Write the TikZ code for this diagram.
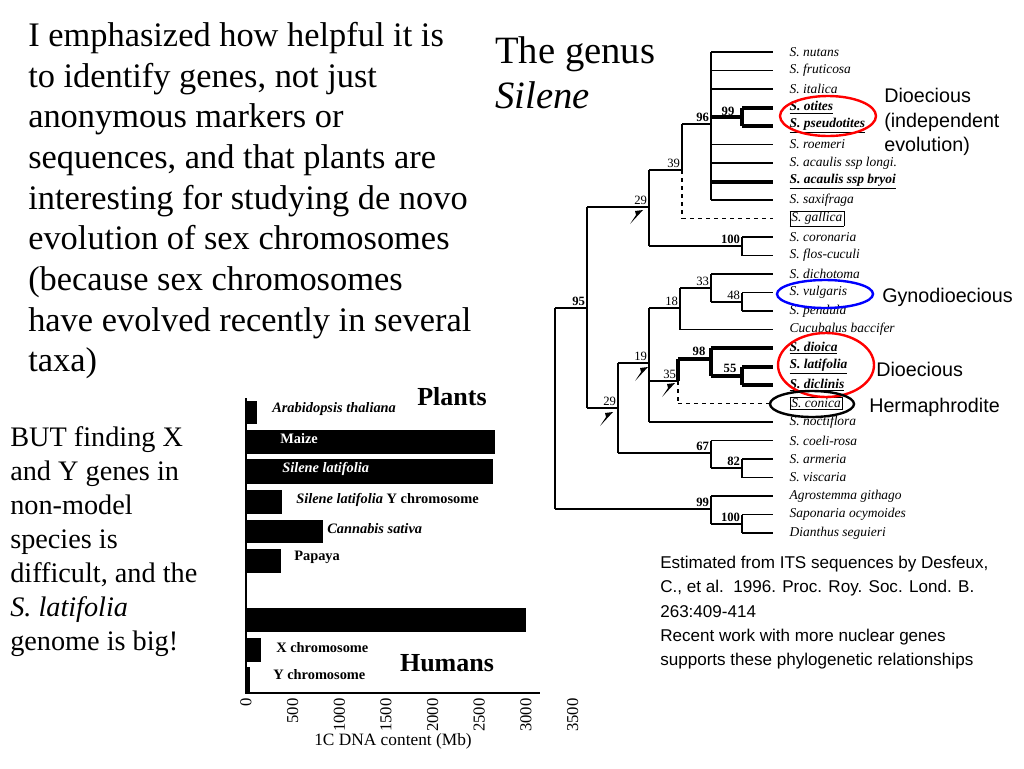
\documentclass[tikz,border=0pt]{standalone}
\usepackage{fontspec}
\setmainfont{Liberation Serif}
\setsansfont{Liberation Sans}
\usetikzlibrary{positioning}
\begin{document}
\begin{tikzpicture}[x=0.75pt,y=-0.75pt,
  slide/.style={anchor=north west, align=left, inner sep=0pt, font=\fontsize{25.8}{30.5}\selectfont},
  leaf/.style={anchor=west, inner sep=1pt, font=\fontsize{10.1}{9}\selectfont\itshape},
  boot/.style={above left, inner sep=1pt, font=\fontsize{9.5}{9}\selectfont},
  bootb/.style={boot, font=\fontsize{9.5}{9}\selectfont\bfseries},
  branch/.style={line width=1pt},
  heavy/.style={line width=3pt},
  dashbranch/.style={line width=1pt, dashed},
  note/.style={anchor=north west, align=left, inner sep=0pt, font=\sffamily\fontsize{14.8}{18.4}\selectfont},
  bar/.style={fill=black},
  barlab/.style={anchor=west, inner sep=0pt, font=\fontsize{10.8}{10}\selectfont\bfseries},
  pointer/.style={fill=black}
]
\useasboundingbox (0,0) rectangle (1024,768);

% left text
\node[slide] (intro) at (28,22) {I emphasized how helpful it is\\to identify genes, not just\\anonymous markers or\\sequences, and that plants are\\interesting for studying de novo\\evolution of sex chromosomes\\(because sex chromosomes\\have evolved recently in several\\taxa)};
\node[slide, font=\fontsize{21.2}{25.6}\selectfont] (but) at (10,426) {BUT finding X\\and Y genes in\\non-model\\species is\\difficult, and the\\\textit{S. latifolia}\\genome is big!};
\node[slide, font=\fontsize{29}{34}\selectfont] (title) at (495,36) {The genus\\\textit{Silene}};

% leaves
\foreach \name [count=\i from 0] in {S. nutans, S. fruticosa, S. italica, \textbf{\underline{S. otites}}, \textbf{\underline{S. pseudotites}}, S. roemeri, S. acaulis ssp longi., \textbf{\underline{S. acaulis ssp bryoi}}, S. saxifraga, \fbox{S. gallica}, S. coronaria, S. flos-cuculi, S. dichotoma, S. vulgaris, S. pendula, Cucubalus baccifer, \textbf{\underline{S. dioica}}, \textbf{\underline{S. latifolia}}, \textbf{\underline{S. diclinis}}, \fbox{S. conica}, S. noctiflora, S. coeli-rosa, S. armeria, S. viscaria, Agrostemma githago, Saponaria ocymoides, Dianthus seguieri}
  \node[leaf, font=\fontsize{10.1}{9}\selectfont\itshape\setlength{\fboxsep}{1pt}] (l\i) at (788,52+18.5*\i) {\name};

% leaf branches
\foreach \i/\x in {0/711,1/711,2/711,5/711,6/711,8/711,10/742,11/742,12/711,13/742,14/742,15/680,20/649,21/711,22/742,23/742,24/711,25/742,26/742}
  \draw[branch] (\x,52+18.5*\i) -- (773,52+18.5*\i);
\foreach \i/\x in {3/742,4/742,7/711,16/711,17/742,18/742}
  \draw[heavy] (\x,52+18.5*\i) -- (773,52+18.5*\i);
\foreach \i/\x in {9/682,19/678}
  \draw[dashbranch] (\x,52+18.5*\i) -- (773,52+18.5*\i);

% upper clades
\draw[branch] (711,52) -- (711,200);
\draw[heavy] (742,107.5) -- (742,126) (711,117) -- (742,117);
\draw[branch] (682,124) -- (711,124) node[bootb] {96};
\node[bootb] at (736,117) {99};
\draw[branch] (682,124) -- (682,170);
\draw[dashbranch] (682,170) -- (682,218.5);
\draw[branch] (649,170) -- (682,170) node[boot] {39};
\draw[branch] (742,237) -- (742,255.5) (649,246) -- (742,246) node[bootb] {100};
\draw[branch] (649,170) -- (649,246);
\draw[branch] (587,207) -- (649,207) node[boot] {29};
% middle clades
\draw[branch] (711,274) -- (711,302) (742,292.5) -- (742,311) (711,302) -- (742,302) node[boot] {48};
\draw[branch] (680,288) -- (711,288) node[boot] {33};
\draw[branch] (680,288) -- (680,330) (649,308) -- (680,308) node[boot] {18};
\draw[heavy] (711,348) -- (711,376) (742,366.5) -- (742,385) (711,376) -- (742,376);
\node[bootb] at (738,374) {55};
\draw[heavy] (678,359) -- (711,359) (678,359) -- (678,381);
\node[bootb] at (707,357) {98};
\draw[dashbranch] (678,381) -- (678,403.5);
\draw[branch] (649,381) -- (678,381) node[boot] {35};
\draw[branch] (649,308) -- (649,422) (618,363) -- (649,363) node[boot] {19};
\draw[branch] (711,440.5) -- (711,468) (742,459) -- (742,477.5) (711,468) -- (742,468) node[bootb] {82};
\draw[branch] (618,453) -- (711,453) node[bootb] {67};
\draw[branch] (618,363) -- (618,453) (587,408) -- (618,408) node[boot] {29};
\draw[branch] (587,207) -- (587,408) (555,308) -- (587,308) node[bootb] {95};
% outgroup
\draw[branch] (711,496) -- (711,524) (742,514.5) -- (742,533) (711,524) -- (742,524) node[bootb] {100};
\draw[branch] (555,509) -- (711,509) node[bootb] {99};
\draw[branch] (555,308) -- (555,509);

% pointers
\foreach \x/\y in {643/210,648/367,675/383,613/412}
  \fill[pointer] (\x,\y) -- ++(-13,14) -- ++(6,-9) -- ++(-1,-4) -- cycle;

% rings
\draw[red, line width=1.8pt] (828,116) ellipse (48 and 20);
\draw[blue, line width=1.8pt] (825,294) ellipse (48 and 14);
\draw[red, line width=1.8pt] (826,365) ellipse (48 and 32);
\draw[black, line width=1.8pt] (812,404) ellipse (42 and 13);
\node[note] (dio1) at (884,88) {Dioecious\\(independent\\evolution)};
\node[note] (gyno) at (882,288) {Gynodioecious};
\node[note] (dio2) at (876,362) {Dioecious};
\node[note] (herm) at (869,398) {Hermaphrodite};
\node[note, font=\sffamily\fontsize{12.8}{18.2}\selectfont] (cite) at (660,556) {Estimated from ITS sequences by Desfeux,\\C., et al.\ \ 1996. Proc. Roy. Soc. Lond. B.\\263:409-414\\Recent work with more nuclear genes\\supports these phylogenetic relationships};

% bar chart
\foreach \t/\b/\v in {401/424/120,430/454/2670,459/484/2650,490/514/385,520/543/830,549/573/375,608/632/3000,638/662/160,667/692/45}
  \fill[bar] (246,\t) rectangle (246+0.0933*\v,\b);
\draw[line width=0.8pt] (246,398) -- (246,693) -- (540,693);
\foreach \v in {0,500,...,3500}
  \node[rotate=90, anchor=east, inner sep=1pt, font=\fontsize{12.5}{10}\selectfont] at (246+0.0933*\v,697) {\v};
\node[font=\fontsize{13}{10}\selectfont] (xlab) at (393,741) {1C DNA content (Mb)};
\node[barlab] at (272,409) {\textit{Arabidopsis thaliana}};
\node[barlab, white] at (280,439) {Maize};
\node[barlab, white] at (282,469) {\textit{Silene latifolia}};
\node[barlab] at (296,500) {\textit{Silene latifolia} Y chromosome};
\node[barlab] at (327,529) {\textit{Cannabis sativa}};
\node[barlab] at (294,557) {Papaya};
\node[barlab] at (276,648) {X chromosome};
\node[barlab] at (273,675) {Y chromosome};
\node[font=\fontsize{19.5}{16}\selectfont\bfseries] (plants) at (452,397) {Plants};
\node[font=\fontsize{19.5}{16}\selectfont\bfseries] (humans) at (447,663) {Humans};
\end{tikzpicture}
\end{document}
